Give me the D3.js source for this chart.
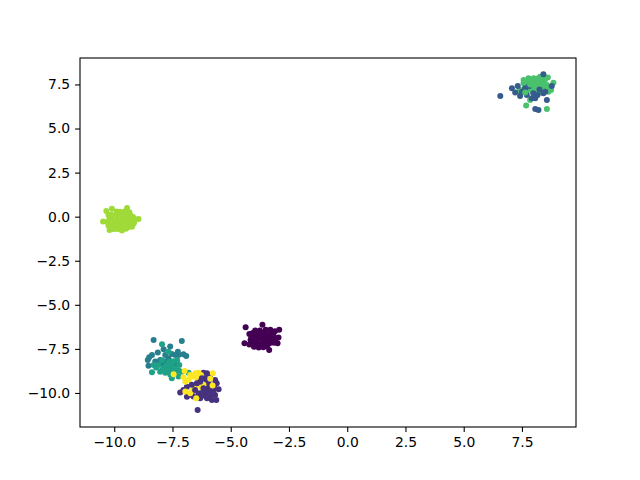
<!DOCTYPE html>
<html>
<head>
<meta charset="utf-8">
<script src="https://cdn.jsdelivr.net/npm/d3@7"></script>
<style>
  html, body { margin: 0; padding: 0; background: #fff; }
  svg { display: block; }
  .tick text { font-family: "DejaVu Sans"; font-size: 13.9px; fill: #000; }
</style>
</head>
<body>
<div id="scatter"></div>
<script>
// Values, one [x, y] list per blob
var tickValues = [-10, -7.5, -5, -2.5, 0, 2.5, 5, 7.5];

var purple = [[-4.36,-6.27],[-3.64,-6.13],[-2.92,-6.41],[-2.95,-6.86],[-2.99,-7.18],[-4.41,-7.18],[-3.35,-7.56],
  [-4.05,-6.6],[-3.8,-6.62],[-3.55,-6.57],[-3.3,-6.6],[-3.2,-6.55],
  [-4.1,-6.75],[-3.9,-6.78],[-3.65,-6.72],[-3.45,-6.76],[-3.22,-6.74],
  [-4.12,-6.9],[-3.85,-6.93],[-3.7,-6.88],[-3.5,-6.92],[-3.3,-6.9],
  [-4.05,-7.05],[-3.9,-7.08],[-3.6,-7.03],[-3.4,-7.07],[-3.25,-7.02],
  [-4.0,-7.2],[-3.75,-7.22],[-3.55,-7.18],[-3.35,-7.2],
  [-3.9,-7.3],[-3.7,-7.32],[-3.5,-7.29],
  [-4.2,-6.65],[-4.15,-7.0],[-3.95,-6.45],[-3.75,-6.45],[-3.5,-6.42],[-3.3,-6.42],[-3.1,-6.5],[-3.15,-6.8],
  [-3.1,-7.0],[-3.15,-7.15],[-4.2,-7.25],[-4.0,-7.38],[-3.8,-7.42],[-3.6,-7.4],[-3.45,-7.35]];

var lime = [[-10.34,0.32],[-10.1,0.45],[-9.45,0.49],[-10.48,-0.28],[-8.96,-0.13],[-10.2,-0.75],[-9.67,-0.79],[-9.24,-0.57],[-9.2,-0.2],
  [-10.14,0.12],[-9.9,0.15],[-9.7,0.1],[-9.5,0.18],[-9.3,0.05],
  [-10.1,-0.05],[-9.85,-0.02],[-9.6,-0.08],[-9.4,-0.03],
  [-10.12,-0.22],[-9.92,-0.25],[-9.7,-0.2],[-9.5,-0.27],[-9.3,-0.22],
  [-10.05,-0.4],[-9.8,-0.42],[-9.6,-0.38],[-9.4,-0.44],[-9.28,-0.36],
  [-10.0,-0.58],[-9.75,-0.6],[-9.55,-0.57],[-9.4,-0.6],
  [-10.25,0.1],[-10.2,-0.1],[-10.3,-0.3],[-10.25,-0.5],[-9.9,0.3],[-9.75,0.28],[-9.55,0.3],[-9.35,0.25],
  [-9.2,0.0],[-9.1,-0.15],[-9.15,-0.35],[-9.2,-0.45],[-9.9,-0.7],[-9.75,-0.72],[-9.5,-0.68],[-10.05,-0.7]];

var tealBlue = [[-8.31,-6.99],[-7.1,-7.05],[-7.6,-7.37],[-7.88,-7.52],[-8.56,-8.13],[-8.53,-8.45],[-7.27,-7.66],[-7.03,-7.81],
  [-6.91,-7.9],[-8.13,-7.71],[-8.38,-7.84],[-8.5,-7.98],[-7.41,-8.35],[-7.24,-7.84],[-7.81,-7.84],[-8.03,-8.13],
  [-7.67,-8.03],[-7.96,-8.32],[-8.24,-8.22],[-7.53,-7.79],[-7.81,-8.22],[-7.6,-8.32],[-7.38,-7.84]];

var teal = [[-7.95,-7.24],[-8.38,-8.83],[-8.31,-8.41],[-7.53,-9.17],[-7.24,-9.07],[-6.81,-8.85],[-8.03,-8.79],[-7.81,-8.85],
  [-7.67,-8.66],[-7.88,-8.6],[-7.53,-8.79],[-7.24,-8.73],[-7.1,-8.79],[-7.38,-8.88],[-7.74,-8.41],[-8.1,-8.41],
  [-7.53,-8.5],[-7.67,-7.66],[-7.21,-8.41],
  [-8.2,-8.55],[-7.95,-8.7],[-7.6,-8.95],[-7.4,-8.6],[-7.65,-8.25],[-7.95,-8.15],[-7.45,-8.2],[-7.3,-8.15]];

var indigo = [[-6.42,-10.96],[-7.17,-9.98],[-5.62,-10.4],[-5.52,-9.79],[-6.17,-8.85],[-5.6,-9.45],[-5.88,-8.98],[-6.88,-10.21],
  [-6.67,-10.11],[-6.31,-10.3],[-6.02,-10.3],[-5.81,-10.4],[-5.67,-10.11],[-6.1,-10.02],[-5.88,-9.92],[-6.38,-10.02],
  [-5.95,-9.54],[-5.74,-9.83],[-6.1,-9.17],[-6.02,-8.88],[-5.67,-9.26],[-6.88,-9.64],[-7.03,-9.83],[-5.88,-10.21],
  [-6.0,-9.7],[-5.85,-9.7],[-6.05,-9.9],[-5.9,-10.05],[-5.75,-10.0],[-6.2,-10.15],[-6.2,-9.95],[-5.7,-9.55],
  [-6.35,-10.2],[-6.05,-9.4],[-5.95,-9.35],[-6.6,-10.2]];

var yellow = [[-7.45,-8.94],[-6.98,-8.75],[-7.03,-9.11],[-6.95,-9.36],[-6.74,-8.98],[-6.52,-8.88],[-6.38,-8.85],[-6.28,-8.98],
  [-5.77,-8.88],[-5.88,-9.2],[-5.78,-9.58],[-6.95,-9.92],[-6.74,-10.02],[-6.67,-9.88],[-6.53,-9.64],[-6.28,-9.68],
  [-6.81,-9.26],[-6.45,-9.17],[-6.17,-9.54],[-6.48,-10.3],[-6.64,-9.07]];

var indigoTop = [[-6.17,-9.73],[-6.31,-9.36],[-6.67,-9.54],[-6.45,-9.45],[-6.53,-9.83],[-6.24,-9.17]];

var green = [[7.68,6.3],[8.57,6.11],[8.85,7.6],[8.75,7.19],[8.61,7.89],[7.78,7.85],[7.57,7.57],[7.4,7.19],[7.85,6.62],
  [7.92,7.66],[8.14,7.75],[8.28,7.94],[8.42,7.66],[8.57,7.47],[8.21,7.47],[7.99,7.38],[7.78,7.57],[7.64,7.38],
  [8.35,7.28],[8.64,7.09],[7.85,7.22],[8.14,7.19],[7.42,7.04],[7.57,7.75],[8.42,7.47],[8.07,7.57],[8.28,7.66],[8.5,7.79],
  [7.7,7.6],[7.85,7.75],[8.0,7.85],[8.2,7.85],[8.35,7.85],[8.05,7.3],[8.3,7.4],[7.7,7.15],[7.95,7.1],[8.25,7.05],
  [8.45,7.25],[7.55,7.2],[8.55,7.3]];

var navy = [[6.57,6.85],[7.07,7.28],[7.32,7.41],[7.21,7.04],[7.42,6.85],[7.64,7.28],[7.81,7.41],[8.42,8.08],[8.78,7.41],
  [8.5,7.09],[8.57,6.62],[8.07,6.11],[8.21,6.05],[7.99,7.0],[8.17,6.9],[7.92,6.71],[7.71,6.9],[8.07,6.71],[8.25,7.22],[8.42,7.0],[7.5,7.09]];

var greenTop = [[7.64,7.04],[8.0,7.45],[8.3,7.55],[7.85,7.5]];

// blob number (colour) and its list, in drawing order
var layers = [[0, purple], [6, lime], [3, tealBlue], [4, teal], [1, indigo], [7, yellow], [1, indigoTop], [5, green], [2, navy], [5, greenTop]];

var svgWidth = 640;
var svgHeight = 480;
var margin = { top: 58, right: 64, bottom: 53, left: 80 };
var width = svgWidth - margin.left - margin.right;
var height = svgHeight - margin.top - margin.bottom;

var svg = d3.select("#scatter")
  .append("svg")
  .attr("width", svgWidth)
  .attr("height", svgHeight);

var chartGroup = svg.append("g")
  .attr("transform", `translate(${margin.left}, ${margin.top})`);

var xScale = d3.scaleLinear().domain([-11.47, 9.82]).range([0, width]);
var yScale = d3.scaleLinear().domain([-11.93, 9.0]).range([height, 0]);
var color = d3.scaleSequential(d3.interpolateViridis).domain([0, 7]);

// points first, the frame goes on top
layers.forEach(function(layer) {
  chartGroup.append("g")
    .selectAll("circle")
    .data(layer[1])
    .enter()
    .append("circle")
    .attr("cx", d => xScale(d[0]))
    .attr("cy", d => yScale(d[1]))
    .attr("r", 3.0)
    .attr("fill", color(layer[0]));
});

var bottomAxis = d3.axisBottom(xScale).tickValues(tickValues).tickFormat(d3.format(".1f")).tickSize(4.9).tickPadding(4.9);
var leftAxis = d3.axisLeft(yScale).tickValues(tickValues).tickFormat(d3.format(".1f")).tickSize(4.9).tickPadding(4.9);

var xAxisGroup = chartGroup.append("g").attr("transform", `translate(0, ${height})`).call(bottomAxis);
var yAxisGroup = chartGroup.append("g").call(leftAxis);

[xAxisGroup, yAxisGroup].forEach(function(g) {
  g.select(".domain").remove();
  g.selectAll(".tick line").attr("stroke", "#000").attr("stroke-width", 1.1);
});

chartGroup.append("rect")
  .attr("width", width)
  .attr("height", height)
  .attr("fill", "none")
  .attr("stroke", "#000")
  .attr("stroke-width", 1.1);
</script>
</body>
</html>
